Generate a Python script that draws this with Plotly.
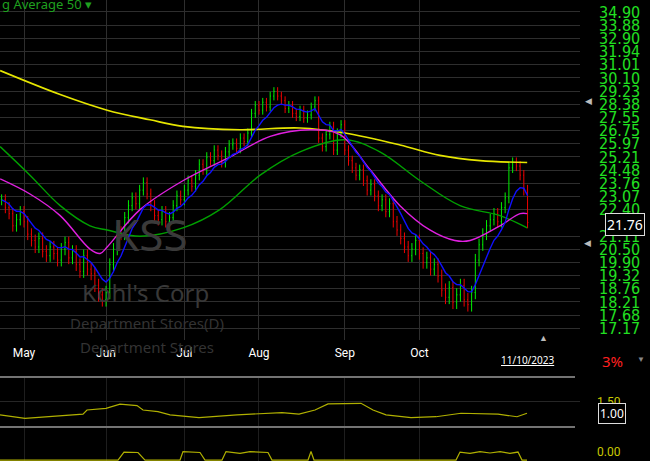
import plotly.graph_objects as go
import pandas as pd

# daily closes (trading days 2023-04-21 .. 2023-11-10)
closes_apr = [22.9, 22.5, 22.2, 21.6, 21.9, 22.3]
closes_may = [21.8, 21.2, 20.9, 20.6, 21.0, 20.4, 20.2, 20.6, 20.3, 20.0, 20.5, 20.8, 20.1, 20.4, 19.8, 19.5, 20.2, 19.6, 19.4, 18.9, 18.5, 18.3]
closes_jun = [18.6, 19.8, 20.5, 21.3, 21.2, 22.0, 22.6, 23.0, 22.7, 23.4, 23.8, 23.2, 22.6, 22.1, 21.9, 22.3, 21.8, 22.0, 22.6, 23.1, 22.9]
closes_jul = [23.4, 23.9, 23.6, 24.2, 24.8, 24.5, 25.2, 25.0, 25.6, 25.3, 24.9, 25.5, 25.9, 26.0, 25.7, 26.3, 26.1, 26.6, 27.8, 28.3]
closes_aug = [28.0, 28.5, 28.2, 28.9, 29.2, 28.9, 28.6, 28.1, 28.3, 27.8, 27.6, 28.0, 27.5, 27.7, 28.2, 28.6, 26.3, 25.8, 26.5, 27.0, 25.6, 26.6, 27.1]
closes_sep = [25.6, 25.0, 24.6, 24.2, 24.5, 23.9, 23.4, 23.7, 23.1, 22.6, 22.9, 22.3, 22.7, 21.8, 21.4, 21.0, 20.6, 20.2, 20.5, 20.9]
closes_oct = [20.3, 19.9, 20.1, 19.6, 19.8, 19.3, 18.7, 18.4, 18.8, 18.2, 18.5, 18.9, 18.3, 18.1, 18.6, 20.0, 20.7, 21.2, 21.6, 21.9, 22.2, 21.8]
closes_nov = [22.5, 23.0, 24.6, 24.9, 24.7, 24.2, 23.4, 21.76]
closes = closes_apr + closes_may + closes_jun + closes_jul + closes_aug + closes_sep + closes_oct + closes_nov
wick = 0.28

month_idx = [6, 28, 49, 69, 92, 112]
month_labels = ["May", "Jun", "Jul", "Aug", "Sep", "Oct"]

price_ticks = [34.90, 33.88, 32.90, 31.94, 31.01, 30.10, 29.23, 28.38, 27.55, 26.75, 25.97, 25.21,
               24.48, 23.76, 23.07, 22.40, 21.11, 20.50, 19.90, 19.32, 18.76, 18.21, 17.68, 17.17]

ma200_x = [-0.4, 15.7, 28.3, 39.8, 48.6, 63.9, 80, 92, 106.8, 117.5, 128.3, 140.9]
ma200_y = [30.6, 29.0, 28.0, 27.4, 27.0, 26.8, 26.9, 26.6, 25.9, 25.3, 25.0, 24.9]
ma50_x = [-0.4, 7.6, 15.7, 23.7, 28.3, 37.1, 48.6, 58.5, 69.3, 80, 92, 101.4, 112.2, 122.9, 133.6, 140.9]
ma50_y = [25.8, 24.2, 22.6, 21.6, 21.4, 21.1, 21.5, 22.4, 24.2, 25.5, 26.2, 25.5, 23.9, 22.6, 22.1, 21.5]
ma20_x = [-0.4, 7.6, 15.7, 23.7, 26.4, 28.3, 37.1, 48.6, 61.2, 72, 82.7, 90.7, 98.8, 106.8, 114.8, 121.5, 125.6, 133.6, 139, 140.9]
ma20_y = [24.0, 23.2, 22.1, 20.5, 20.3, 20.6, 22.4, 23.9, 25.2, 26.4, 26.8, 26.5, 24.5, 22.6, 21.4, 20.9, 20.9, 21.6, 22.2, 22.2]

p2_x = [0, 25, 83, 87, 106, 120, 137, 143, 158, 170, 199, 237, 282, 299, 315, 328, 361, 373, 386, 411, 436, 461, 498, 517, 527]
p2_v = [0.93, 0.78, 0.96, 1.14, 1.21, 1.39, 1.33, 1.14, 1.07, 0.93, 0.81, 0.93, 1.03, 0.96, 1.14, 1.40, 1.43, 1.14, 0.93, 0.81, 0.85, 1.0, 0.96, 0.85, 1.0]
p3_x = [0, 118, 124, 138, 145, 180, 183, 200, 205, 222, 226, 240, 250, 268, 272, 308, 311, 314, 456, 460, 470, 480, 490, 500, 510, 518, 522, 527]
p3_v = [-0.9, -0.9, -0.05, -0.1, -0.9, -0.9, 0.0, -0.1, -0.9, -0.9, 0.0, -0.2, 0.0, -0.1, -0.9, -0.9, 0.0, -0.9, -0.9, -0.05, -0.2, 0.0, -0.15, 0.0, -0.2, -0.05, -0.9, -0.9]

X0, XPX = 24.0, 3.73  # pixel of idx 6, px per bar
def px2idx(x):
    return (x - X0) / XPX + 6

n = len(closes)
idx = list(range(n))
opens = [closes[0]] + closes[:-1]
highs = [max(o, c) + wick for o, c in zip(opens, closes)]
lows = [min(o, c) - wick for o, c in zip(opens, closes)]
ema = pd.Series(closes).ewm(span=8, adjust=False).mean()

fig = go.Figure()
fig.add_trace(go.Scatter(x=ma200_x, y=ma200_y, mode="lines", line=dict(color="#e6e600", width=1.6, shape="spline"), hoverinfo="skip"))
fig.add_trace(go.Scatter(x=ma50_x, y=ma50_y, mode="lines", line=dict(color="#00a000", width=1.4, shape="spline"), hoverinfo="skip"))
fig.add_trace(go.Scatter(x=ma20_x, y=ma20_y, mode="lines", line=dict(color="#e020e0", width=1.4, shape="spline"), hoverinfo="skip"))
fig.add_trace(go.Ohlc(x=idx, open=opens, high=highs, low=lows, close=closes, tickwidth=0.2,
                      increasing=dict(line=dict(color="#00ee00", width=1)),
                      decreasing=dict(line=dict(color="#ee0000", width=1))))
fig.add_trace(go.Scatter(x=idx, y=ema, mode="lines", line=dict(color="#1010ff", width=1.4), hoverinfo="skip"))
fig.add_trace(go.Scatter(x=[px2idx(v) for v in p2_x], y=p2_v, mode="lines", line=dict(color="#b0b000", width=1.2),
                         xaxis="x2", yaxis="y2"))
fig.add_trace(go.Scatter(x=[px2idx(v) for v in p3_x], y=p3_v, mode="lines", line=dict(color="#b0b000", width=1.2),
                         xaxis="x3", yaxis="y3"))

H, W = 461, 650
def py(p):
    return 1 - p / H

xr = [px2idx(0), px2idx(580)]
xdom = [0, 580 / W]
grid = "#2e2e2e"
tickfont = dict(family="DejaVu Sans Condensed, Liberation Sans Narrow, Roboto", size=16, color="#22e022")
fig.update_layout(
    width=W, height=H, margin=dict(l=0, r=0, t=0, b=0), showlegend=False,
    paper_bgcolor="black", plot_bgcolor="black",
    xaxis=dict(domain=xdom, range=xr, tickvals=month_idx, ticktext=month_labels, showgrid=True, gridcolor=grid,
               rangeslider=dict(visible=False), zeroline=False, ticks="", tickfont=dict(color="white", size=12, family="Roboto"),
               ticklabelstandoff=4, anchor="y"),
    yaxis=dict(domain=[py(340), 1], type="log", range=[1.2232, 1.5545], side="right", tickvals=price_ticks,
               ticktext=[f"{t:.2f}" for t in price_ticks], tickfont=tickfont, showgrid=True, gridcolor=grid,
               zeroline=False, ticks="", ticklabelstandoff=18, anchor="x"),
    xaxis2=dict(domain=xdom, range=xr, tickvals=month_idx, showticklabels=False, showgrid=True, gridcolor="#1e1e1e",
                zeroline=False, anchor="y2"),
    yaxis2=dict(domain=[py(426), py(378)], range=[0.45, 2.52], side="right", tickvals=[1.5], ticktext=["1.50"],
                tickfont=dict(family="Roboto", size=12, color="#c8c800"), showgrid=True, gridcolor="#262626",
                zeroline=False, ticks="", ticklabelstandoff=16, anchor="x2"),
    xaxis3=dict(domain=xdom, range=xr, tickvals=month_idx, showticklabels=False, showgrid=True, gridcolor="#1e1e1e",
                zeroline=False, anchor="y3"),
    yaxis3=dict(domain=[0, py(428)], range=[-1.0, 2.5], side="right", tickvals=[0], ticktext=["0.00"],
                tickfont=dict(family="Roboto", size=12, color="#c8c800"), showgrid=False,
                zeroline=False, ticks="", ticklabelstandoff=16, anchor="x3"),
)
fig.add_shape(type="line", xref="paper", yref="paper", x0=0, x1=575 / W, y0=py(377), y1=py(377), line=dict(color="#9a9a9a", width=1.5))
fig.add_shape(type="line", xref="paper", yref="paper", x0=0, x1=575 / W, y0=py(427), y1=py(427), line=dict(color="#9a9a9a", width=1.5))

def ann(text, x, y, size, color, xanchor="left", yanchor="middle", **kw):
    fig.add_annotation(text=text, x=x / W, y=py(y), xref="paper", yref="paper", showarrow=False,
                       xanchor=xanchor, yanchor=yanchor, font=dict(size=size, color=color, family="Noto Sans"), **kw)

ann("g Average 50 ▾", 0, 4, 13, "#1fa01f", yanchor="middle")
ann("KSS", 150, 234, 44, "#3a3a3a", xanchor="center")
ann("Kohl's Corp", 145, 292, 24, "#383838", xanchor="center")
ann("Department Stores(D)", 147, 323, 15, "#333333", xanchor="center")
ann("Department Stores", 147, 347, 15, "#333333", xanchor="center")
ann("<u>11/10/2023</u>", 527, 360, 10, "white", xanchor="center")
ann("3%", 612, 361, 15, "#ff2020", xanchor="center")
ann("21.76", 625, 224, 14, "white", xanchor="center", bgcolor="black", bordercolor="#dddddd", borderwidth=1, borderpad=1)
ann("1.00", 612, 413, 12, "white", xanchor="center", bgcolor="black", bordercolor="#dddddd", borderwidth=1, borderpad=1)
ann("◀", 587, 243, 9, "#bbbbbb", xanchor="center")
ann("◀", 588, 100, 9, "#bbbbbb", xanchor="center")
ann("▲", 543, 337, 9, "#bbbbbb", xanchor="center")
ann("▼", 641, 358, 8, "#888888", xanchor="center")

fig.write_html("out.html", config={"displayModeBar": False},
               post_script="document.body.style.margin='0';document.body.style.overflow='hidden';")
